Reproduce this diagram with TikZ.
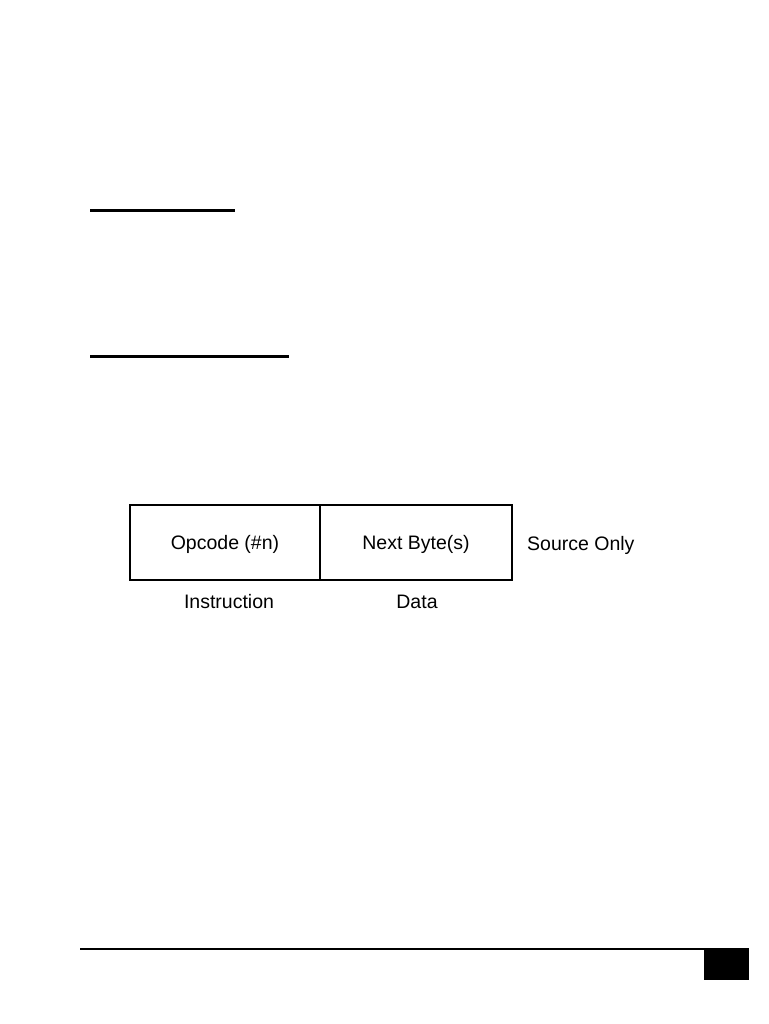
\documentclass[tikz,border=0pt]{standalone}
\usepackage{fontspec}
\setmainfont{Liberation Sans}
\usetikzlibrary{positioning}

\begin{document}
\begin{tikzpicture}
			[
				x=1pt, y=-1pt,
				font=\fontsize{19.5}{23}\selectfont,
				field/.style={draw, line width=1.8pt, minimum height=75pt, inner sep=0pt, outer sep=0pt, text depth=0pt, yshift=0pt},
				label/.style={draw=none, fill=none, inner sep=0pt},
				rule/.style={line width=3pt}
			]

			\useasboundingbox (0,0) rectangle (768,1024);

			% heading rules
			\draw[rule] (90,211) -- (235,211);
			\draw[rule] (90,356) -- (289,356);

			% fields
			\node[field, minimum width=190pt] (opcode) at ( 225, 542.5 ) {Opcode (\#n)};
			\node[field, minimum width=192pt, right=0pt of opcode] (nextbyte) {Next Byte(s)};

			% field labels
			\node[label, anchor=west] (source) at ( 527, 545 ) {Source Only};
			\node[label] (instr) at ( 229, 602 ) {Instruction};
			\node[label] (data) at ( 417, 602 ) {Data};

			% footer
			\draw[line width=1.5pt] (80,949) -- (704,949);
			\fill (704,948) rectangle (749,980);

		\end{tikzpicture}
\end{document}
